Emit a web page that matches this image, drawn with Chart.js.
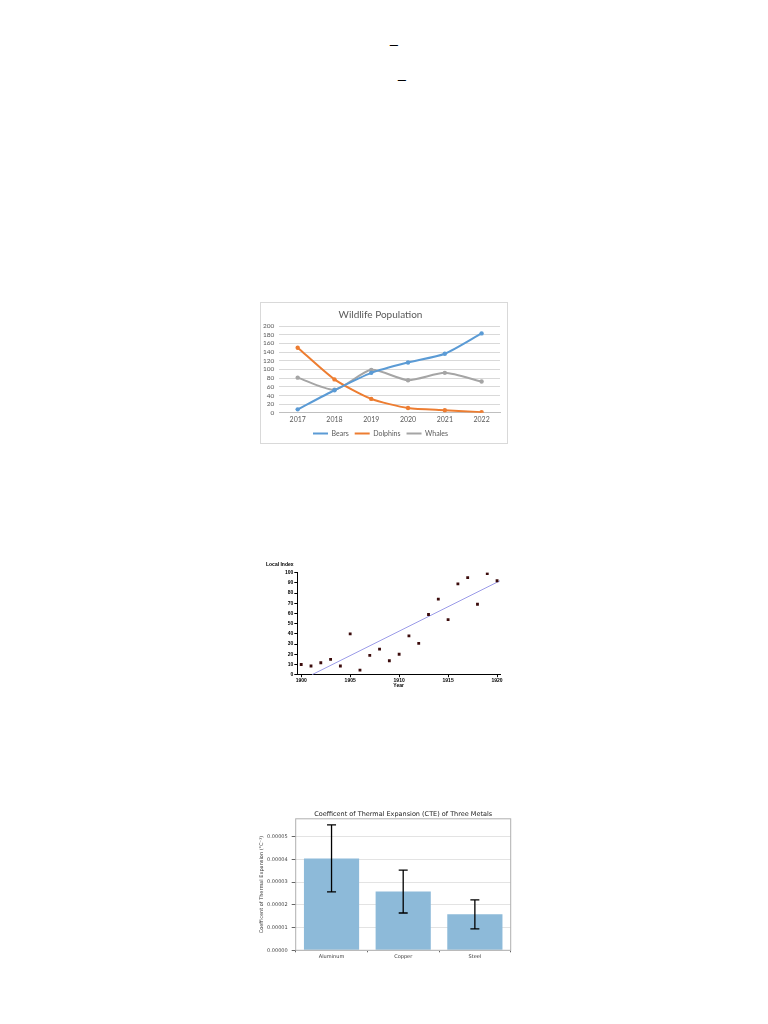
<!DOCTYPE html>
<html>
<head>
<meta charset="utf-8">
<script src="https://cdn.jsdelivr.net/npm/chart.js@4.4.1/dist/chart.umd.min.js"></script>
<style>
  html, body { margin: 0; padding: 0; background: #fff; width: 768px; height: 1024px; overflow: hidden; }
  .box { position: absolute; }
  .dash { position: absolute; font: 14px "Liberation Sans", sans-serif; color: #000; line-height: 14px; }
  #frame1 { position: absolute; left: 260px; top: 302px; width: 246px; height: 140px; border: 1px solid #d9d9d9; }
  #c1 { left: 261px; top: 303px; width: 246px; height: 144px; }
  #c2 { left: 266px; top: 560px; width: 244px; height: 130px; }
  #c3 { left: 250px; top: 805px; width: 275px; height: 160px; }
</style>
</head>
<body>
<div class="dash" style="left:390px;top:31px;">_</div>
<div class="dash" style="left:398px;top:66px;">_</div>

<div id="frame1"></div>
<div class="box" id="c1"><canvas id="wildlife"></canvas></div>
<div class="box" id="c2"><canvas id="index"></canvas></div>
<div class="box" id="c3"><canvas id="cte"></canvas></div>

<script>
// wildlife chart
const years = ['2017', '2018', '2019', '2020', '2021', '2022'];
const bears = [8, 52, 92, 116, 136, 183];
const dolphins = [150, 77, 32, 11, 6, 1.5];
const whales = [81, 53, 99, 75, 92, 72];

// local index scatter
const indexYears = [1900, 1901, 1902, 1903, 1904, 1905, 1906, 1907, 1908, 1909, 1910,
                    1911, 1912, 1913, 1914, 1915, 1916, 1917, 1918, 1919, 1920];
const localIndex = [10, 8.5, 11.7, 15, 8.5, 40, 4.5, 19, 25, 13.7, 20,
                    38, 30.6, 59, 74, 54, 89, 95, 69, 99, 92];
const trendX = [1901.1, 1920.3];
const trendY = [0, 92];

// thermal expansion bars
const metals = ['Aluminum', 'Copper', 'Steel'];
const cte = [4.04e-5, 2.58e-5, 1.58e-5];
const cteErr = [1.47e-5, 0.94e-5, 0.64e-5];

const base = { responsive: true, maintainAspectRatio: false, animation: false };

new Chart(document.getElementById('wildlife'), {
  type: 'line',
  data: {
    labels: years,
    datasets: [
      { label: 'Bears', data: bears, borderColor: '#5b9bd5', backgroundColor: '#5b9bd5' },
      { label: 'Dolphins', data: dolphins, borderColor: '#ed7d31', backgroundColor: '#ed7d31' },
      { label: 'Whales', data: whales, borderColor: '#a5a5a5', backgroundColor: '#a5a5a5' }
    ].map(d => Object.assign(d, { borderWidth: 2, pointRadius: 2.2, pointBorderWidth: 0, tension: 0.22 }))
  },
  options: {
    ...base,
    layout: { padding: { left: 0, right: 7, top: 0, bottom: 0 } },
    plugins: {
      title: {
        display: true, text: 'Wildlife Population', color: '#595959',
        font: { family: 'Lato', size: 10, weight: 'normal' }, padding: { top: 6, bottom: 5 }
      },
      legend: {
        position: 'bottom',
        labels: {
          boxWidth: 15, boxHeight: 2, padding: 6, color: '#595959',
          font: { family: 'Lato', size: 7 },
          generateLabels: chart => Chart.defaults.plugins.legend.labels.generateLabels(chart)
            .map(i => Object.assign(i, { lineWidth: 0 }))
        }
      },
      tooltip: { enabled: false }
    },
    scales: {
      x: {
        offset: true,
        grid: { display: false, drawTicks: false },
        border: { color: '#bfbfbf' },
        ticks: { color: '#595959', font: { family: 'Lato', size: 7 }, padding: 2.8, maxRotation: 0 },
        afterFit: s => { s.height = 11.2; }
      },
      y: {
        min: 0, max: 200,
        ticks: { stepSize: 20, autoSkip: false, color: '#595959', font: { family: 'Lato', size: 6.5 }, padding: 5 },
        grid: { color: '#d9d9d9', drawTicks: false },
        border: { display: false },
        afterFit: s => { s.width = 18.3; }
      }
    }
  }
});

new Chart(document.getElementById('index'), {
  type: 'scatter',
  data: {
    datasets: [
      {
        label: 'Local Index',
        data: indexYears.map((x, i) => ({ x: x, y: localIndex[i] })),
        pointStyle: 'rect', pointRadius: 2, borderWidth: 0, backgroundColor: '#3b0b0b'
      },
      {
        type: 'line', label: 'trend',
        data: trendX.map((x, i) => ({ x: x, y: trendY[i] })),
        borderColor: '#9b9be8', borderWidth: 1, pointRadius: 0
      }
    ]
  },
  options: {
    ...base,
    layout: { padding: { right: 10 } },
    plugins: {
      title: {
        display: true, text: 'Local Index', align: 'start', color: '#000',
        font: { family: 'Liberation Sans', size: 5, weight: 'bold' }, padding: { top: 1.3, bottom: 5.3 }
      },
      legend: { display: false },
      tooltip: { enabled: false }
    },
    scales: {
      x: {
        type: 'linear', min: 1899.6, max: 1920.3,
        ticks: { stepSize: 5, includeBounds: false, color: '#000', padding: 0,
                 font: { family: 'Liberation Sans', size: 5, weight: 'bold' }, callback: v => String(v) },
        grid: { drawOnChartArea: false, tickLength: 2.5, color: '#000' },
        border: { color: '#000' },
        title: { display: true, text: 'Year', color: '#000', padding: { top: 0, bottom: 1.5 },
                 font: { family: 'Liberation Sans', size: 5, weight: 'bold' } },
        afterFit: s => { s.height = 15.3; }
      },
      y: {
        min: 0, max: 100,
        ticks: { stepSize: 10, color: '#000', padding: 1,
                 font: { family: 'Liberation Sans', size: 5, weight: 'bold' } },
        grid: { drawOnChartArea: false, tickLength: 3, color: '#000' },
        border: { color: '#000' },
        afterFit: s => { s.width = 31.3; }
      }
    }
  }
});

const errorBars = {
  id: 'errorBars',
  afterDatasetsDraw(chart) {
    const ctx = chart.ctx;
    const y = chart.scales.y;
    const meta = chart.getDatasetMeta(0);
    ctx.save();
    ctx.strokeStyle = '#000';
    ctx.lineWidth = 1.3;
    meta.data.forEach((bar, i) => {
      const top = y.getPixelForValue(cte[i] + cteErr[i]);
      const bot = y.getPixelForValue(cte[i] - cteErr[i]);
      ctx.beginPath();
      ctx.moveTo(bar.x, top); ctx.lineTo(bar.x, bot);
      ctx.moveTo(bar.x - 4.5, top); ctx.lineTo(bar.x + 4.5, top);
      ctx.moveTo(bar.x - 4.5, bot); ctx.lineTo(bar.x + 4.5, bot);
      ctx.stroke();
    });
    ctx.restore();
  }
};

const frame = {
  id: 'frame',
  afterDraw(chart) {
    const a = chart.chartArea;
    const ctx = chart.ctx;
    ctx.save();
    ctx.strokeStyle = '#b0b0b0';
    ctx.lineWidth = 1;
    ctx.strokeRect(a.left, a.top, a.right - a.left, a.bottom - a.top);
    ctx.restore();
  }
};

new Chart(document.getElementById('cte'), {
  type: 'bar',
  data: {
    labels: metals,
    datasets: [{ label: 'CTE', data: cte, backgroundColor: '#8dbad9', barPercentage: 0.77, categoryPercentage: 1 }]
  },
  plugins: [errorBars, frame],
  options: {
    ...base,
    layout: { padding: { right: 14.3 } },
    plugins: {
      title: {
        display: true, fullSize: false, color: '#222',
        text: 'Coefficent of Thermal Expansion (CTE) of Three Metals',
        font: { family: 'DejaVu Sans', size: 6.5, weight: 'normal' }, padding: { top: 5, bottom: 1 }
      },
      legend: { display: false },
      tooltip: { enabled: false }
    },
    scales: {
      x: {
        grid: { drawOnChartArea: false, tickLength: 2, color: '#666' },
        border: { display: false },
        ticks: { color: '#333', padding: 1, font: { family: 'DejaVu Sans', size: 5 } },
        afterFit: s => { s.height = 14.7; }
      },
      y: {
        min: 0, max: 5.78e-5,
        ticks: { stepSize: 1e-5, includeBounds: false, color: '#444', padding: 4,
                 font: { family: 'DejaVu Sans', size: 5 }, callback: v => v.toFixed(5) },
        grid: { color: '#e3e3e3', tickLength: 4, tickColor: '#666' },
        border: { display: false },
        title: { display: true, text: 'Coefficent of Thermal Expansion (°C⁻¹)', color: '#333',
                 padding: { top: 8.7, bottom: 0 }, font: { family: 'DejaVu Sans', size: 5 } },
        afterFit: s => { s.width = 45.7; }
      }
    }
  }
});
</script>
</body>
</html>
